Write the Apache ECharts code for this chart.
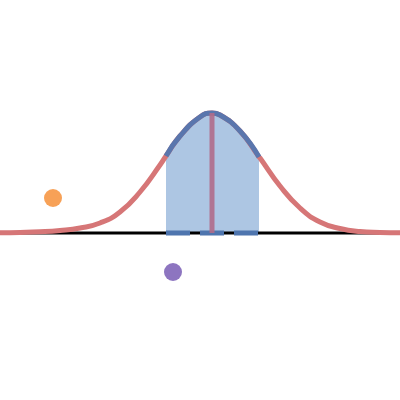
<!DOCTYPE html>
<html><head><meta charset="utf-8">
<script src="https://cdn.jsdelivr.net/npm/echarts@6/dist/echarts.min.js"></script>
<style>html,body{margin:0;padding:0;background:#fff}#c{width:400px;height:400px}</style>
</head><body><div id="c"></div>
<script>
// x positions and curve heights (pixel-like units, baseline = 0)
const curveX = [0,20,40,60,80,100,120,140,160,166,180,200,212,220,240,259,260,280,300,320,340,360,380,400];
const curveY = [0.3,0.6,1.2,2.5,5,10,21,41,68,77,97,116,120,118,102,76,75,47,25,11,4.5,1.5,0.6,0.2];
const shadeX = [166,180,200,212,220,240,259];
const shadeY = [77,97,116,120,118,102,76];
const meanX = 212, meanY = 120;
const orangePt = [53,35];
const purplePt = [173,-39];

const curve = curveX.map((x,i)=>[x,curveY[i]]);
const shade = shadeX.map((x,i)=>[x,shadeY[i]]);
const chart = echarts.init(document.getElementById('c'));
chart.setOption({
  animation:false,
  grid:{left:0,right:0,top:0,bottom:0},
  xAxis:{type:'value',min:0,max:400,show:false},
  yAxis:{type:'value',min:-167,max:233,show:false},
  series:[
    {type:'line',data:shade,smooth:true,symbol:'none',lineStyle:{width:0},areaStyle:{color:'#adc6e3',opacity:1},z:1},
    {type:'line',data:[[0,0],[400,0]],symbol:'none',lineStyle:{color:'#000',width:3},z:2},
    {type:'line',data:curve,smooth:true,symbol:'none',lineStyle:{color:'#d67677',width:5},z:3},
    {type:'line',data:shade,smooth:true,symbol:'none',lineStyle:{color:'#5a76ad',width:5},z:4},
    {type:'line',data:[[shadeX[0],0],[shadeX[shadeX.length-1],0]],symbol:'none',lineStyle:{color:'#4e75ae',width:5,type:[24,10]},z:5},
    {type:'line',data:[[meanX,0],[meanX,meanY]],symbol:'none',lineStyle:{color:'#b06c8a',width:5,opacity:0.9},z:6},
    {type:'scatter',data:[orangePt],symbolSize:18,itemStyle:{color:'#f58a2d'},z:7},
    {type:'scatter',data:[purplePt],symbolSize:18,itemStyle:{color:'#7152b0'},z:7}
  ]
});
</script></body></html>
